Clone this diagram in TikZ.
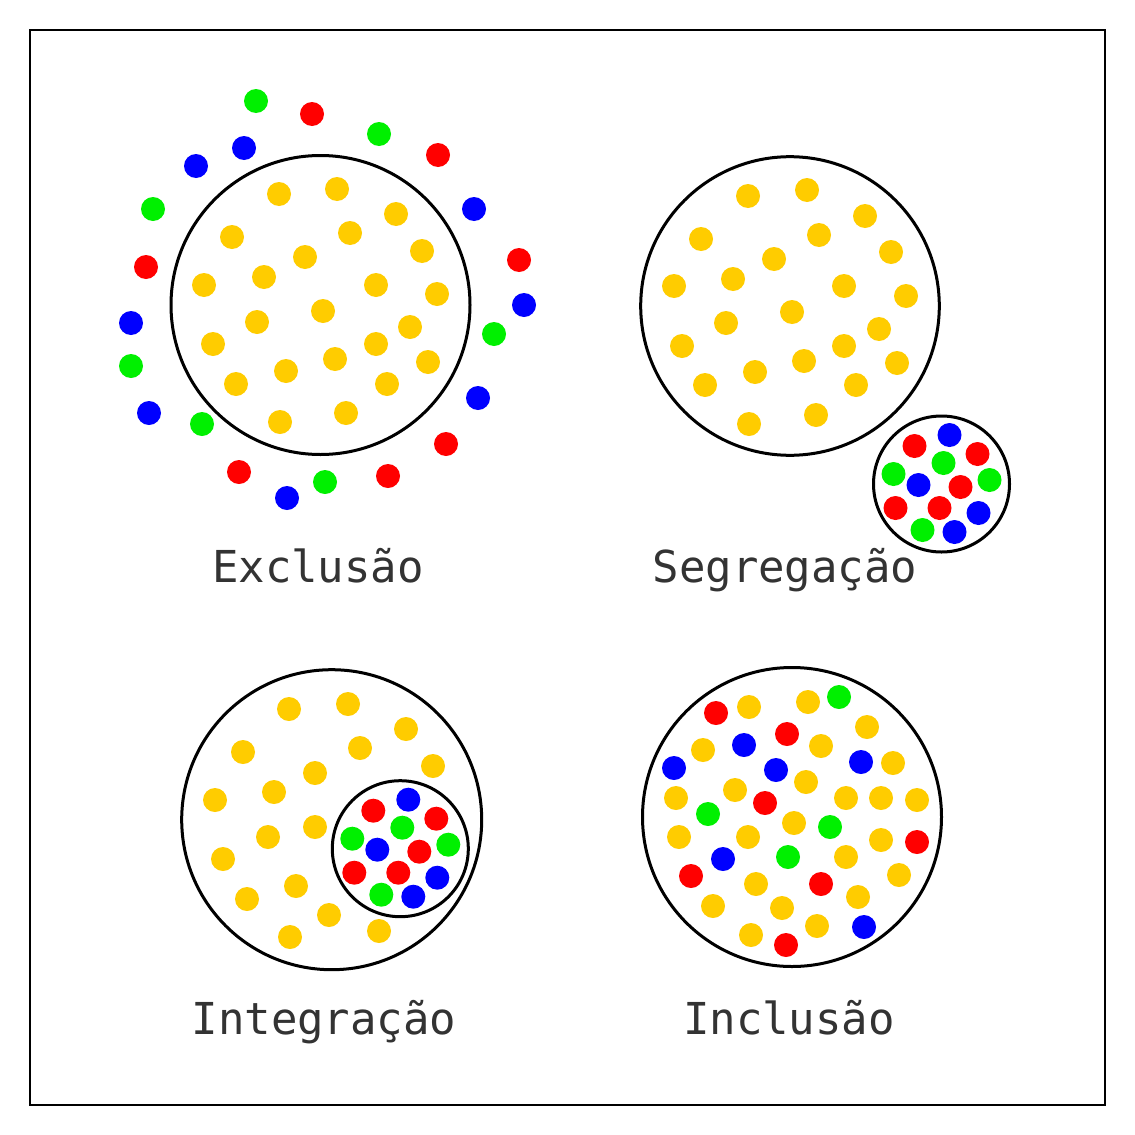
\documentclass[tikz,border=0pt]{standalone}
\usepackage{fontspec}
\newfontfamily\labelfont{DejaVu Sans Mono}
\definecolor{dotyellow}{HTML}{FFCC00}
\definecolor{dotgreen}{HTML}{00F000}
\definecolor{dotred}{HTML}{FF0000}
\definecolor{dotblue}{HTML}{0000FF}
\definecolor{labelgray}{HTML}{333333}

\begin{document}
\begin{tikzpicture}[x=1pt, y=-1pt,
    ring/.style={line width=3pt},
    lbl/.style={anchor=base, text=labelgray, font=\labelfont\fontsize{44}{44}\selectfont}]
    \useasboundingbox (0,0) rectangle (1135,1135);
    \draw[line width=1.5pt] (30,30) rectangle (1105,1105);

    % Exclusao
    \draw[ring] (320.5,305) circle (149.5pt);
    \foreach \x/\y in {279/194, 337/189, 396/214, 232/237, 350/233, 422/251, 305/257, 264/277,
        204/285, 376/285, 437/294, 323/311, 257/322, 410/327, 213/344, 376/344, 335/359,
        428/362, 286/371, 236/384, 387/384, 346/413, 280/422}
        \fill[dotyellow] (\x,\y) circle (12pt);
    \foreach \x/\y in {256/101, 379/134, 153/209, 494/334, 131/366, 202/424, 325/482}
        \fill[dotgreen] (\x,\y) circle (12pt);
    \foreach \x/\y in {312/114, 438/155, 519/260, 146/267, 446/444, 239/472, 388/476}
        \fill[dotred] (\x,\y) circle (12pt);
    \foreach \x/\y in {244/148, 196/166, 474/209, 524/305, 131/323, 478/398, 149/413, 287/498}
        \fill[dotblue] (\x,\y) circle (12pt);
    \node[lbl] (exclusao) at (318,582) {Exclusão};

    % Segregacao
    \draw[ring] (790,306) circle (149.3pt);
    \foreach \x/\y in {748/196, 807/190, 865/216, 701/239, 819/235, 891/252, 774/259, 733/279,
        674/286, 844/286, 906/296, 792/312, 726/323, 879/329, 682/346, 844/346, 804/361,
        897/363, 755/372, 705/385, 856/385, 816/415, 749/424}
        \fill[dotyellow] (\x,\y) circle (12pt);
    \node[lbl] (segregacao) at (785,582) {Segregação};

    % Integracao
    \draw[ring] (331.7,819.7) circle (150pt);
    \foreach \x/\y in {289/709, 348/704, 406/729, 243/752, 360/748, 433/766, 315/773, 274/792,
        215/800, 315/827, 268/837, 223/859, 296/886, 247/899, 329/915, 379/931, 290/937}
        \fill[dotyellow] (\x,\y) circle (12pt);
    \node[lbl] (integracao) at (324,1034) {Integração};

    % small mixed groups
    \foreach \cx/\cy in {941.5/484, 400.3/848.7} {
        \begin{scope}[shift={(\cx,\cy)}]
            \draw[ring, fill=white] (0,0) circle (68pt);
            \foreach \x/\y in {2/-21, -48/-10, 48/-4, -19/46}
                \fill[dotgreen] (\x,\y) circle (12pt);
            \foreach \x/\y in {-27/-38, 36/-30, 19/3, -46/24, -2/24}
                \fill[dotred] (\x,\y) circle (12pt);
            \foreach \x/\y in {8/-49, -23/1, 37/29, 13/48}
                \fill[dotblue] (\x,\y) circle (12pt);
        \end{scope}
    }

    % Inclusao
    \draw[ring] (792,817) circle (149.5pt);
    \foreach \x/\y in {749/707, 808/702, 867/727, 703/750, 821/746, 893/763, 806/782, 676/798,
        735/790, 846/798, 881/798, 917/800, 794/823, 679/837, 748/837, 881/840, 846/857,
        756/884, 899/875, 858/897, 713/906, 782/908, 817/926, 751/935}
        \fill[dotyellow] (\x,\y) circle (12pt);
    \foreach \x/\y in {839/697, 708/814, 830/827, 788/857}
        \fill[dotgreen] (\x,\y) circle (12pt);
    \foreach \x/\y in {716/713, 787/734, 765/803, 917/842, 691/876, 821/884, 786/945}
        \fill[dotred] (\x,\y) circle (12pt);
    \foreach \x/\y in {744/745, 674/768, 776/770, 861/762, 723/859, 864/927}
        \fill[dotblue] (\x,\y) circle (12pt);
    \node[lbl] (inclusao) at (789,1034) {Inclusão};
\end{tikzpicture}
\end{document}
